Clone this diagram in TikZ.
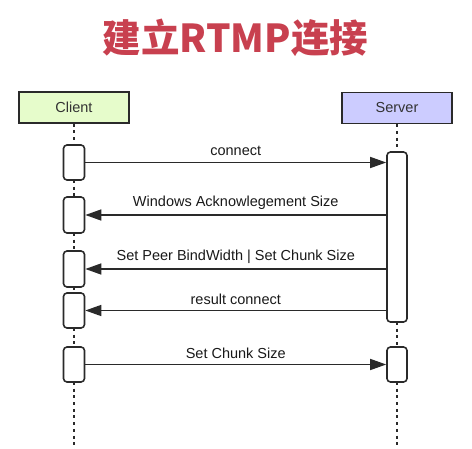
\documentclass[tikz,border=0pt]{standalone}
\usepackage{fontspec}
\setmainfont{Liberation Sans}
\newfontfamily\cjk{Noto Sans CJK SC}
\usetikzlibrary{arrows.meta}
\definecolor{titlered}{HTML}{C8404F}
\definecolor{clientgreen}{HTML}{E6FCCB}
\definecolor{serverblue}{HTML}{CCCCFF}
\definecolor{linegray}{HTML}{2A2A2A}
\tikzset{
    actor/.style = {draw = linegray, line width = 1.6pt, minimum width = 110pt, minimum height = 31pt, inner sep = 0pt, text = black!80, font = \fontsize{14.5}{17}\selectfont},
    act/.style = {draw = linegray, line width = 1.6pt, rounded corners = 3.5pt, fill = white, minimum width = 21pt, inner sep = 0pt},
    life/.style = {linegray, line width = 1.6pt, dash pattern = on 3pt off 3.7pt},
    msg/.style = {linegray, line width = 1.5pt, -{Triangle[length = 16pt, width = 11pt]}},
    lbl/.style = {text = black!90, font = \fontsize{14.5}{17}\selectfont}
}
\begin{document}
\begin{tikzpicture}[x = 1pt, y = -1pt]
        \useasboundingbox (0, 0) rectangle (472, 449);
        \node[text = titlered, font = \cjk\bfseries\fontsize{38.5}{40}\selectfont] (title) at (235.5, 38) {建立RTMP连接};
        \node[actor, fill = clientgreen] (client) at (74, 107.5) {Client};
        \node[actor, fill = serverblue] (server) at (397, 108) {Server};
        \coordinate (cend) at (74, 449);
        \coordinate (send) at (397, 449);
        \draw[life] (client.south) -- (74, 145);
        \draw[life] (74, 180) -- (74, 197);
        \draw[life] (74, 233) -- (74, 251);
        \draw[life] (74, 287) -- (74, 293);
        \draw[life] (74, 328) -- (74, 347);
        \draw[life] (74, 382) -- (cend);
        \draw[life] (server.south) -- (397, 152);
        \draw[life] (397, 322) -- (397, 347);
        \draw[life] (397, 382) -- (send);
        \node[act, minimum height = 35pt] (c1) at (74, 162.5) {};
        \node[act, minimum height = 36pt] (c2) at (74, 215) {};
        \node[act, minimum height = 36pt] (c3) at (74, 269) {};
        \node[act, minimum height = 35pt] (c4) at (74, 310.5) {};
        \node[act, minimum height = 35pt] (c5) at (74, 364.5) {};
        \node[act, minimum width = 20pt, minimum height = 170pt] (s1) at (397, 237) {};
        \node[act, minimum width = 20pt, minimum height = 35pt] (s2) at (397, 364.5) {};
        \draw[msg] (c1.east) -- (s1.west |- c1.east) node[lbl, midway, above = 3pt] {connect};
        \draw[msg] (s1.west |- c2.east) -- (c2.east) node[lbl, midway, above = 1pt] {Windows Acknowlegement Size};
        \draw[msg] (s1.west |- c3.east) -- (c3.east) node[lbl, midway, above = 1pt] {Set Peer BindWidth | Set Chunk Size};
        \draw[msg] (s1.west |- c4.east) -- (c4.east) node[lbl, midway, above = 2pt] {result connect};
        \draw[msg] (c5.east) -- (s2.west) node[lbl, midway, above = 2pt] {Set Chunk Size};
    \end{tikzpicture}
\end{document}
